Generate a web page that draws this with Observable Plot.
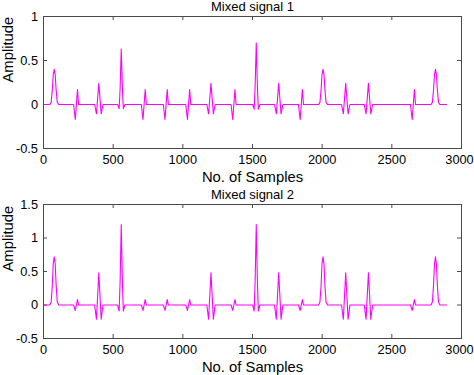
<!DOCTYPE html>
<html>
<head>
<meta charset="utf-8">
<script src="https://cdn.jsdelivr.net/npm/d3@7"></script>
<script src="https://cdn.jsdelivr.net/npm/@observablehq/plot@0.6"></script>
<style>
  html, body { margin: 0; padding: 0; background: #fff; }
  #chart { width: 474px; height: 375px; overflow: hidden; }
  #chart svg { display: block; }
</style>
</head>
<body>
<div id="chart"></div>
<script>
// ---- data ----
const xTicks = [0, 500, 1000, 1500, 2000, 2500, 3000];
const yTicks1 = [-0.5, 0, 0.5, 1];
const yTicks2 = [-0.5, 0, 0.5, 1, 1.5];
const titles = ["Mixed signal 1", "Mixed signal 2"];
const xLabel = "No. of Samples";
const yLabel = "Amplitude";

// sample index of each beat's main peak
const beatSamples = [77, 244, 397, 558, 730, 888, 1049, 1202, 1374, 1527, 1688, 1858, 2006, 2169, 2332, 2662, 2813];
// beat shape: G = wide bump, B = biphasic, T = triphasic, N = narrow tall spike
const beatTypes = ["G", "B", "T", "N", "B", "B", "B", "T", "B", "N", "T", "B", "G", "T", "T", "B", "G"];
const signal1Peaks = [0.40, 0.17, 0.24, 0.63, 0.17, 0.17, 0.17, 0.24, 0.17, 0.70, 0.24, 0.17, 0.40, 0.24, 0.24, 0.17, 0.40];
const signal2Peaks = [0.72, 0.08, 0.48, 1.20, 0.08, 0.08, 0.08, 0.48, 0.08, 1.20, 0.48, 0.08, 0.72, 0.48, 0.48, 0.08, 0.72];
const signalEnd = 2892;

// shape of each beat type: offsets in samples and amplitude relative to the peak
const shapeOffsets = {
  G: [-32, -22, -14, -7, 0, 7, 14, 22, 32],
  B: [-28, -16, -8, 0, 8, 16],
  T: [-30, -17, 0, 17, 30],
  N: [-26, -15, -8, 0, 8, 15, 26]
};
const shapeValues = {
  G: [0, 0.06, 0.4, 0.85, 1, 0.85, 0.4, 0.06, 0],
  B: [0, -1, 0, 1, 0, 0],
  T: [0, -0.44, 1, -0.44, 0],
  N: [0, -0.075, 0.3, 1, 0.3, -0.075, 0]
};

// ---- build table ----
function buildRows(peaks) {
  const rows = [{s: 0, v: 0}];
  beatSamples.forEach((c, i) => {
    const t = beatTypes[i];
    shapeOffsets[t].forEach((o, j) => rows.push({s: c + o, v: shapeValues[t][j] * peaks[i]}));
  });
  rows.push({s: signalEnd, v: 0});
  return rows;
}

const fmt = d => String(d);
const frameColor = "#4a4a4a";
const W = 474, ML = 43, MR = 13;
const xTicksInner = xTicks.slice(0, -1);
const xTickLast = xTicks.slice(-1);

function panel({peaks, yDomain, yTicks, title, height, marginTop, marginBottom, titleDy}) {
  const innerH = height - marginTop - marginBottom;
  const innerW = W - ML - MR;
  return Plot.plot({
    width: W, height, marginLeft: ML, marginRight: MR, marginTop, marginBottom,
    style: {fontFamily: "'Liberation Sans', Arial, sans-serif", fontSize: "12.8px", color: "#000", background: "#fff"},
    x: {domain: [0, 3000]},
    y: {domain: yDomain},
    marks: [
      Plot.axisX(xTicksInner, {tickSize: 0, tickPadding: 6, tickFormat: fmt, label: null, fill: "#000"}),
      Plot.axisX(xTickLast, {tickSize: 0, tickPadding: 6, tickFormat: fmt, label: null, fill: "#000", dx: -2}),
      Plot.axisY(yTicks, {tickSize: 0, tickPadding: 5.5, tickFormat: fmt, label: null, fill: "#000"}),
      Plot.tickX(xTicks, {x: d => d, insetTop: innerH - 4, stroke: frameColor}),
      Plot.tickX(xTicks, {x: d => d, insetBottom: innerH - 4, stroke: frameColor}),
      Plot.tickY(yTicks, {y: d => d, insetLeft: innerW - 4, stroke: frameColor}),
      Plot.tickY(yTicks, {y: d => d, insetRight: innerW - 4, stroke: frameColor}),
      Plot.line(buildRows(peaks), {x: "s", y: "v", stroke: "#ff00ff", strokeWidth: 1.1, curve: "linear"}),
      Plot.frame({stroke: frameColor}),
      Plot.text([title], {text: d => d, frameAnchor: "top", dy: titleDy, fontSize: 13, lineAnchor: "middle", fill: "#000"}),
      Plot.text([xLabel], {text: d => d, frameAnchor: "bottom", dy: 29, fontSize: 14.8, lineAnchor: "middle", fill: "#000"}),
      Plot.text([yLabel], {text: d => d, frameAnchor: "left", dx: -35, rotate: -90, fontSize: 14.8, lineAnchor: "middle", fill: "#000"})
    ]
  });
}

const chart = document.getElementById("chart");
chart.appendChild(panel({peaks: signal1Peaks, yDomain: [-0.5, 1], yTicks: yTicks1, title: titles[0], height: 187, marginTop: 16, marginBottom: 39, titleDy: -9.3}));
chart.appendChild(panel({peaks: signal2Peaks, yDomain: [-0.5, 1.5], yTicks: yTicks2, title: titles[1], height: 188, marginTop: 17, marginBottom: 37, titleDy: -10}));
</script>
</body>
</html>
